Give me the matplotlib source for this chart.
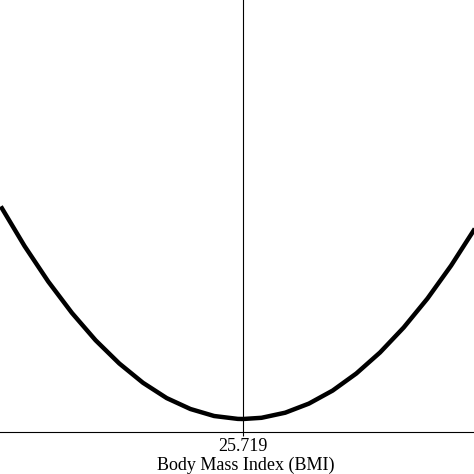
import numpy as np
import matplotlib.pyplot as plt

# BMI grid and the (unlabelled) curve height
bmi = [15.5, 16.5, 17.5, 18.5, 19.5, 20.5, 21.5, 22.5, 23.5, 24.5, 25.5, 25.719,
       26.5, 27.5, 28.5, 29.5, 30.5, 31.5, 32.5, 33.5, 34.5, 35.5]
risk = [2.256, 1.860, 1.505, 1.191, 0.917, 0.685, 0.492, 0.339, 0.230, 0.160, 0.131, 0.130,
        0.142, 0.193, 0.284, 0.414, 0.585, 0.795, 1.045, 1.334, 1.664, 2.033]
ref_bmi = 25.719

plt.rcParams['font.family'] = ['Liberation Serif', 'DejaVu Serif']

fig = plt.figure(figsize=(4.74, 4.74), dpi=100)
ax = fig.add_axes([0, 1 - 432 / 474, 1, 432 / 474])

ax.plot(bmi, risk, color='black', linewidth=3.2, solid_capstyle='butt',
        solid_joinstyle='round')
ax.axvline(ref_bmi, color='black', linewidth=0.8)

ax.set_xlim(15.466, 35.466)
ax.set_ylim(0, 4.32)
ax.set_xticks([ref_bmi])
ax.set_xticklabels([f'{ref_bmi:.3f}'], fontsize=13)
ax.tick_params(axis='x', length=3, width=0.8, pad=1.5)
ax.set_yticks([])
ax.set_xlabel('Body Mass Index (BMI)', fontsize=13, labelpad=1)
ax.xaxis.label.set_x(245.5 / 474)

for side in ['top', 'left', 'right']:
    ax.spines[side].set_visible(False)
ax.spines['bottom'].set_linewidth(0.8)

fig.savefig('out.png', dpi=100)
plt.close(fig)
